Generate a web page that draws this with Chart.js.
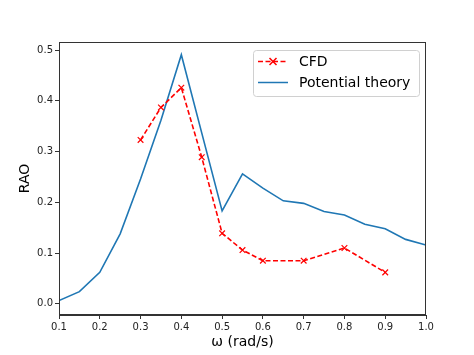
<!DOCTYPE html>
<html><head><meta charset="utf-8">
<script src="https://cdn.jsdelivr.net/npm/chart.js@4/dist/chart.umd.min.js"></script>
<style>html,body{margin:0;padding:0;background:#fff}canvas{display:block}</style>
</head><body>
<canvas id="c" width="474" height="355"></canvas>
<script>
const omegaPT = [0.1,0.15,0.2,0.25,0.3,0.35,0.4,0.45,0.5,0.55,0.6,0.65,0.7,0.75,0.8,0.85,0.9,0.95,1.0];
const raoPT   = [0.0065,0.024,0.062,0.138,0.246,0.362,0.491,0.337,0.183,0.256,0.228,0.203,0.198,0.182,0.175,0.157,0.148,0.127,0.116];
const omegaCFD = [0.3,0.35,0.4,0.45,0.5,0.55,0.6,0.7,0.8,0.9];
const raoCFD   = [0.323,0.387,0.426,0.289,0.139,0.106,0.085,0.085,0.110,0.062];
const xTicks = [0.1,0.2,0.3,0.4,0.5,0.6,0.7,0.8,0.9,1.0];
const yTicks = [0.0,0.1,0.2,0.3,0.4,0.5];
const seriesNames = ['CFD','Potential theory'];
const FONT = 'DejaVu Sans';

const framePlugin = {
  id:'frame',
  afterDraw(chart){
    const {ctx, chartArea:a} = chart;
    ctx.save();
    ctx.strokeStyle='#333'; ctx.lineWidth=1;
    ctx.strokeRect(Math.round(a.left)+0.5, Math.round(a.top)+0.5, Math.round(a.right-a.left)-1, Math.round(a.bottom-a.top)-1);
    // legend
    const bx=253, by=50, bw=166, bh=46;
    ctx.fillStyle='rgba(255,255,255,0.8)';
    ctx.strokeStyle='#d0d0d0';
    ctx.beginPath();
    if (ctx.roundRect) ctx.roundRect(bx+0.5,by+0.5,bw,bh,3); else ctx.rect(bx+0.5,by+0.5,bw,bh);
    ctx.fill(); ctx.stroke();
    ctx.font = '14px "'+FONT+'"';
    ctx.textBaseline='middle'; ctx.textAlign='left';
    // CFD
    let y=61.5;
    ctx.strokeStyle='#ff0000'; ctx.lineWidth=1.5; ctx.setLineDash([5,2.5]);
    ctx.beginPath(); ctx.moveTo(258,y); ctx.lineTo(288,y); ctx.stroke();
    ctx.setLineDash([]);
    ctx.beginPath(); ctx.moveTo(273-3.5,y-3.5); ctx.lineTo(273+3.5,y+3.5); ctx.moveTo(273-3.5,y+3.5); ctx.lineTo(273+3.5,y-3.5); ctx.stroke();
    ctx.fillStyle='#000'; ctx.fillText(seriesNames[0],299,y+1);
    y=82.5;
    ctx.strokeStyle='#1f77b4';
    ctx.beginPath(); ctx.moveTo(258,y); ctx.lineTo(288,y); ctx.stroke();
    ctx.fillText(seriesNames[1],299,y+1);
    ctx.restore();
  }
};

new Chart(document.getElementById('c'), {
  type:'scatter',
  data:{datasets:[
    {label:seriesNames[1], data:omegaPT.map((x,i)=>({x, y:raoPT[i]})), showLine:true, borderColor:'#1f77b4', backgroundColor:'#1f77b4', borderWidth:1.6, pointRadius:0, order:2},
    {label:seriesNames[0], data:omegaCFD.map((x,i)=>({x, y:raoCFD[i]})), showLine:true, borderColor:'#ff0000', backgroundColor:'#ff0000', borderWidth:1.6, borderDash:[5,2.5], pointStyle:'crossRot', pointRadius:4, pointBorderWidth:1.2, pointBorderColor:'#ff0000', order:1}
  ]},
  options:{
    responsive:false, animation:false, devicePixelRatio:1,
    layout:{padding:{left:0,right:48,top:42,bottom:0}},
    plugins:{legend:{display:false}, tooltip:{enabled:false}},
    scales:{
      x:{type:'linear', min:0.1, max:1.0,
        afterBuildTicks(s){ s.ticks = xTicks.map(v=>({value:v})); },
        afterFit(s){ s.height = 40; },
        grid:{drawOnChartArea:false, tickLength:4, color:'#333', tickWidth:1},
        border:{display:true,color:'#333'},
        ticks:{color:'#222', font:{family:FONT,size:10}, padding:2, maxRotation:0, callback:v=>v.toFixed(1)},
        title:{display:true, text:'ω (rad/s)', color:'#000', font:{family:FONT,size:14}, padding:{top:1,bottom:4}}
      },
      y:{type:'linear', min:-0.022, max:0.516,
        afterBuildTicks(s){ s.ticks = yTicks.map(v=>({value:v})); },
        afterFit(s){ s.width = 59; },
        grid:{drawOnChartArea:false, tickLength:4, color:'#333', tickWidth:1},
        border:{display:true,color:'#333'},
        ticks:{color:'#222', font:{family:FONT,size:10}, padding:2, callback:v=>v.toFixed(1)},
        title:{display:true, text:'RAO', color:'#000', font:{family:FONT,size:14}, padding:{top:17,bottom:0}}
      }
    }
  },
  plugins:[framePlugin]
});
</script>
</body></html>
